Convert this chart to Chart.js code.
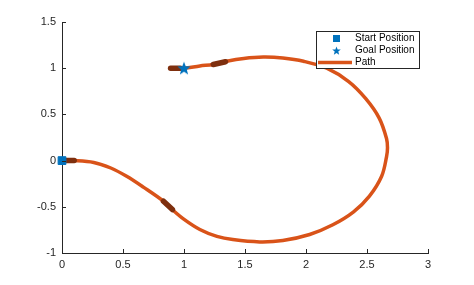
<!DOCTYPE html>
<html>
<head>
<meta charset="utf-8">
<script src="https://cdn.jsdelivr.net/npm/chart.js@4.4.0/dist/chart.umd.min.js"></script>
<style>
  html, body { margin: 0; padding: 0; background: #fff; }
  #wrap { width: 474px; height: 285px; }
</style>
</head>
<body>
<div id="wrap"><canvas id="pathChart"></canvas></div>
<script>
// Path
const pathX = [0, 0.095, 0.26, 0.40, 0.53, 0.67, 0.832, 0.90, 0.995, 1.13, 1.27, 1.40, 1.62, 1.81, 2.03, 2.22, 2.39, 2.52, 2.62, 2.66, 2.668, 2.66, 2.60, 2.49, 2.35, 2.17, 1.98, 1.81, 1.65, 1.49, 1.35, 1.24, 1.13, 1.0, 0.886];
const pathY = [0, 0, -0.02, -0.08, -0.17, -0.29, -0.44, -0.525, -0.63, -0.745, -0.82, -0.855, -0.88, -0.865, -0.80, -0.695, -0.555, -0.385, -0.17, 0.04, 0.14, 0.24, 0.46, 0.67, 0.855, 1.0, 1.075, 1.11, 1.12, 1.105, 1.075, 1.04, 1.025, 1.0, 1.0];

// Darker pose segments along the path
const segments = [
    { x: [0, 0.1], y: [0, 0] },
    { x: [0.832, 0.905], y: [-0.44, -0.53] },
    { x: [1.24, 1.34], y: [1.04, 1.07] },
    { x: [0.89, 0.97], y: [1.0, 1.0] }
];

const startPos = { x: 0, y: 0 };
const goalPos = { x: 1, y: 1 };

const xTicks = [0, 0.5, 1, 1.5, 2, 2.5, 3];
const yTicks = [-1, -0.5, 0, 0.5, 1, 1.5];

const blue = '#0072BD';
const orange = '#D95319';
const brown = '#7E2F0E';
const axisColor = '#262626';

// Filled pentagram for the goal marker
function makeStar(size, color) {
    const c = document.createElement('canvas');
    c.width = size; c.height = size;
    const g = c.getContext('2d');
    const cx = size / 2, cy = size / 2 + 0.5, ro = size / 2, ri = ro * 0.42;
    g.beginPath();
    for (let i = 0; i < 10; i++) {
        const r = i % 2 === 0 ? ro : ri;
        const a = -Math.PI / 2 + i * Math.PI / 5;
        const px = cx + r * Math.cos(a), py = cy + r * Math.sin(a);
        if (i === 0) g.moveTo(px, py); else g.lineTo(px, py);
    }
    g.closePath();
    g.fillStyle = color;
    g.fill();
    return c;
}
const starImg = makeStar(14, blue);
const starSmall = makeStar(9, blue);

const datasets = [
    {
        label: 'Start Position',
        data: [startPos],
        pointStyle: 'rect',
        pointRadius: 5.5,
        backgroundColor: blue,
        borderColor: blue,
        showLine: false,
        clip: false,
        order: 0
    },
    {
        label: 'Goal Position',
        data: [goalPos],
        pointStyle: starImg,
        showLine: false,
        clip: false,
        order: 0
    }
];
segments.forEach(s => {
    datasets.push({
        label: 'pose',
        data: s.x.map((v, i) => ({ x: v, y: s.y[i] })),
        showLine: true,
        borderColor: brown,
        borderWidth: 5.5,
        borderCapStyle: 'round',
        pointRadius: 0,
        order: 1
    });
});
datasets.push({
    label: 'Path',
    data: pathX.map((v, i) => ({ x: v, y: pathY[i] })),
    showLine: true,
    borderColor: orange,
    borderWidth: 3.5,
    tension: 0.35,
    pointRadius: 0,
    order: 2
});

const font = { family: '"Liberation Sans", Arial, sans-serif', size: 11 };

// MATLAB style: inward ticks, plus legend box inside the axes
const matlabBits = {
    id: 'matlabBits',
    afterDraw(chart) {
        const g = chart.ctx;
        const xs = chart.scales.x, ys = chart.scales.y;
        const area = chart.chartArea;
        g.save();
        g.strokeStyle = axisColor;
        g.lineWidth = 1;
        g.beginPath();
        xTicks.forEach(t => {
            const px = Math.round(xs.getPixelForValue(t)) + 0.5;
            g.moveTo(px, area.bottom);
            g.lineTo(px, area.bottom - 4);
        });
        yTicks.forEach(t => {
            const py = Math.round(ys.getPixelForValue(t)) + 0.5;
            g.moveTo(area.left, py);
            g.lineTo(area.left + 4, py);
        });
        g.stroke();

        // legend
        const bx = 316, by = 31, bw = 103, bh = 37;
        g.fillStyle = '#fff';
        g.fillRect(bx, by, bw, bh);
        g.strokeStyle = axisColor;
        g.strokeRect(bx + 0.5, by + 0.5, bw, bh);
        g.fillStyle = blue;
        g.fillRect(333, 35, 7, 7);
        g.drawImage(starSmall, 332, 46);
        g.strokeStyle = orange;
        g.lineWidth = 3.5;
        g.beginPath();
        g.moveTo(318, 62.5);
        g.lineTo(352, 62.5);
        g.stroke();
        g.fillStyle = '#000';
        g.font = '10px "Liberation Sans", Arial, sans-serif';
        g.textBaseline = 'middle';
        g.textAlign = 'left';
        g.fillText('Start Position', 355, 38);
        g.fillText('Goal Position', 355, 50);
        g.fillText('Path', 355, 62);
        g.restore();
    }
};

new Chart(document.getElementById('pathChart'), {
    type: 'scatter',
    data: { datasets: datasets },
    options: {
        responsive: true,
        maintainAspectRatio: false,
        animation: false,
        layout: { padding: { left: 0, top: 22, right: 46, bottom: 0 } },
        plugins: { legend: { display: false }, tooltip: { enabled: false } },
        scales: {
            x: {
                type: 'linear',
                min: 0, max: 3,
                afterFit: s => { s.height = 32; },
                afterBuildTicks: s => { s.ticks = xTicks.map(v => ({ value: v })); },
                ticks: { color: axisColor, font: font, padding: 5, maxRotation: 0, callback: v => String(v) },
                grid: { display: false, drawTicks: false },
                border: { display: true, color: axisColor, width: 1 }
            },
            y: {
                type: 'linear',
                min: -1, max: 1.5,
                afterFit: s => { s.width = 62; },
                afterBuildTicks: s => { s.ticks = yTicks.map(v => ({ value: v })); },
                ticks: { color: axisColor, font: font, padding: 6, callback: v => String(v) },
                grid: { display: false, drawTicks: false },
                border: { display: true, color: axisColor, width: 1 }
            }
        }
    },
    plugins: [matlabBits]
});
</script>
</body>
</html>
